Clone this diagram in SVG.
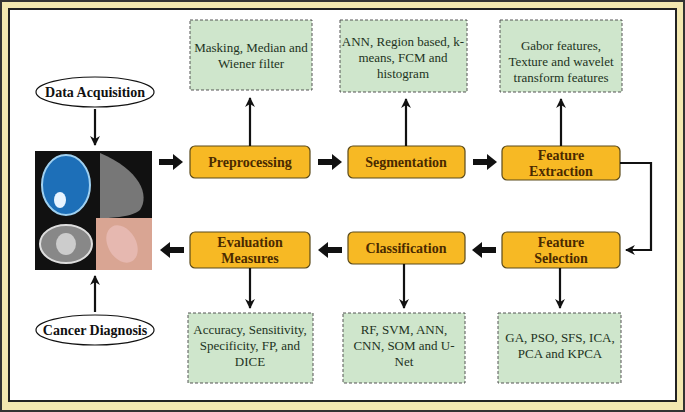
<svg xmlns="http://www.w3.org/2000/svg" width="685" height="412" viewBox="0 0 685 412">
<style>
.n{fill:#f7b924;stroke:#5a4a1a;stroke-width:1.2}
.g{fill:#cfe6cc;stroke:#555;stroke-width:1;stroke-dasharray:3 2}
.t{font-family:"Liberation Serif",serif;font-size:13px;fill:#223322;text-anchor:middle}
.b{font-family:"Liberation Serif",serif;font-size:14px;font-weight:bold;fill:#4a2a00;text-anchor:middle}
.e{font-family:"Liberation Serif",serif;font-size:14px;font-weight:bold;fill:#111;text-anchor:middle}
.c{stroke:#111;stroke-width:2.2;fill:none}
</style>
<defs>
<marker id="a" viewBox="0 0 10 10" refX="9" refY="5" markerWidth="4.5" markerHeight="4.5" orient="auto"><path d="M0,0 L10,5 L0,10 L3,5 z" fill="#111"/></marker>
<polygon id="ra" points="0,-3 14,-3 14,-8 24,0 14,8 14,3 0,3" fill="#111"/>
</defs>
<rect x="1" y="1" width="683" height="410" fill="#f3e8b0" stroke="#333" stroke-width="2"/>
<rect x="9" y="9" width="667" height="392" fill="#fff" stroke="#222" stroke-width="2"/>
<g id="images">
<rect x="35" y="151" width="117" height="119" fill="#111"/>
<ellipse cx="66" cy="185" rx="24" ry="30" fill="#1d6fb8" stroke="#9fd0f0" stroke-width="2"/>
<ellipse cx="60" cy="200" rx="6" ry="8" fill="#e8f4ff"/>
<path d="M100,153 C140,170 150,195 140,210 C130,218 108,218 100,218 Z" fill="#777"/>
<rect x="96" y="218" width="56" height="52" fill="#d9a593"/>
<ellipse cx="122" cy="244" rx="14" ry="20" fill="#e6b8b0" transform="rotate(-30 122 244)"/>
<ellipse cx="66" cy="244" rx="26" ry="19" fill="#888" stroke="#ddd" stroke-width="2"/>
<ellipse cx="66" cy="244" rx="10" ry="11" fill="#ccc"/>
</g>
<g id="data-acquisition"><ellipse cx="95" cy="92" rx="59" ry="15" fill="#fff" stroke="#111" stroke-width="1.2"/><text class="e" x="95" y="97">Data Acquisition</text></g>
<g id="cancer-diagnosis"><ellipse cx="95" cy="330" rx="59" ry="15" fill="#fff" stroke="#111" stroke-width="1.2"/><text class="e" x="95" y="335">Cancer Diagnosis</text></g>
<g id="preprocessing"><rect class="n" x="190" y="146" width="120" height="32" rx="5"/><text class="b" x="250" y="167">Preprocessing</text></g>
<g id="segmentation"><rect class="n" x="348" y="146" width="117" height="32" rx="5"/><text class="b" x="406" y="167">Segmentation</text></g>
<g id="feature-extraction"><rect class="n" x="502" y="146" width="118" height="34" rx="5"/><text class="b" x="561" y="160">Feature</text><text class="b" x="561" y="176">Extraction</text></g>
<g id="feature-selection"><rect class="n" x="502" y="232" width="118" height="36" rx="5"/><text class="b" x="561" y="247">Feature</text><text class="b" x="561" y="263">Selection</text></g>
<g id="classification"><rect class="n" x="348" y="232" width="117" height="32" rx="5"/><text class="b" x="406" y="253">Classification</text></g>
<g id="evaluation"><rect class="n" x="190" y="232" width="120" height="36" rx="5"/><text class="b" x="250" y="247">Evaluation</text><text class="b" x="250" y="263">Measures</text></g>
<g id="g1"><rect class="g" x="190" y="20" width="122" height="70"/><text class="t" x="251" y="52">Masking, Median and</text><text class="t" x="251" y="68">Wiener filter</text></g>
<g id="g2"><rect class="g" x="340" y="20" width="127" height="72"/><text class="t" x="403" y="46">ANN, Region based, k-</text><text class="t" x="403" y="62">means, FCM and</text><text class="t" x="403" y="78">histogram</text></g>
<g id="g3"><rect class="g" x="500" y="20" width="122" height="72"/><text class="t" x="561" y="50">Gabor features,</text><text class="t" x="561" y="66">Texture and wavelet</text><text class="t" x="561" y="82">transform features</text></g>
<g id="g4"><rect class="g" x="188" y="313" width="125" height="70"/><text class="t" x="250" y="334">Accuracy, Sensitivity,</text><text class="t" x="250" y="350">Specificity, FP, and</text><text class="t" x="250" y="366">DICE</text></g>
<g id="g5"><rect class="g" x="343" y="313" width="122" height="70"/><text class="t" x="404" y="334">RF, SVM, ANN,</text><text class="t" x="404" y="350">CNN, SOM and U-</text><text class="t" x="404" y="366">Net</text></g>
<g id="g6"><rect class="g" x="498" y="313" width="123" height="70"/><text class="t" x="560" y="342">GA, PSO, SFS, ICA,</text><text class="t" x="560" y="358">PCA and KPCA</text></g>
<g id="connectors">
<path class="c" d="M95,109 V145" marker-end="url(#a)"/>
<path class="c" d="M95,312 V276" marker-end="url(#a)"/>
<path class="c" d="M250,146 V98" marker-end="url(#a)"/>
<path class="c" d="M406,146 V99" marker-end="url(#a)"/>
<path class="c" d="M561,146 V99" marker-end="url(#a)"/>
<path class="c" d="M250,268 V308" marker-end="url(#a)"/>
<path class="c" d="M404,264 V308" marker-end="url(#a)"/>
<path class="c" d="M560,268 V308" marker-end="url(#a)"/>
<path class="c" d="M620,163 H651 V250 H626" marker-end="url(#a)"/>
<use href="#ra" x="159" y="162"/>
<use href="#ra" x="318" y="162"/>
<use href="#ra" x="473" y="162"/>
<use href="#ra" transform="translate(496 250) rotate(180)"/>
<use href="#ra" transform="translate(342 250) rotate(180)"/>
<use href="#ra" transform="translate(184 250) rotate(180)"/>
</g>
</svg>
